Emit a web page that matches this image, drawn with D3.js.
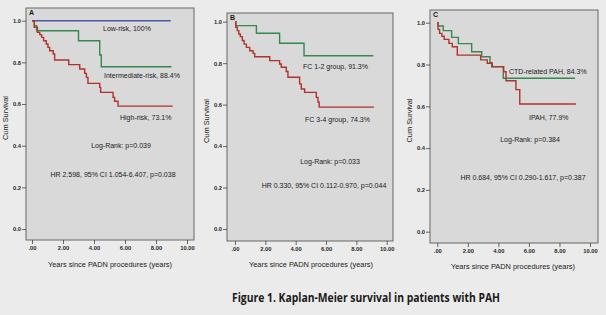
<!DOCTYPE html>
<html>
<head>
<meta charset="utf-8">
<script src="https://cdn.jsdelivr.net/npm/d3@7"></script>
<style>
  html, body { margin: 0; padding: 0; background: #ebebeb; }
  svg { display: block; }
  text { font-family: "Liberation Sans", Arial, sans-serif; fill: #1a1a1a; }
  .tick text { font-size: 5.8px; font-weight: bold; fill: #2a2a2a; }
  .tick line { stroke: #444; stroke-width: 0.8; }
  .lbl { font-size: 7px; }
  .atitle { font-size: 7.4px; }
</style>
</head>
<body>
<div id="chart"></div>
<script>
const width = 606;
const height = 315;

// ----------------------------- DATA ----------------------------- //
// Kaplan-Meier steps: event times (years) and survival after each event
const lowRiskT = [];
const lowRiskS = [];
const lowRiskEnd = 8.95;

const interRiskT = [0.15, 0.3, 3.0, 4.37, 4.47];
const interRiskS = [0.976, 0.952, 0.904, 0.835, 0.779];
const interRiskEnd = 9.0;

const highRiskT = [0.15, 0.35, 0.5, 0.62, 0.75, 0.92, 1.03, 1.14, 1.37, 1.46, 2.37, 3.08, 3.40, 3.51, 3.61, 4.37, 4.43, 5.23, 5.33, 5.55];
const highRiskS = [0.968, 0.944, 0.933, 0.920, 0.904, 0.888, 0.872, 0.856, 0.840, 0.811, 0.789, 0.768, 0.747, 0.728, 0.699, 0.680, 0.656, 0.632, 0.613, 0.590];
const highRiskEnd = 9.08;

const fc12T = [0.05, 1.41, 2.94, 4.55];
const fc12S = [0.981, 0.944, 0.896, 0.836];
const fc12End = 9.12;

const fc34T = [0.05, 0.15, 0.25, 0.35, 0.48, 0.6, 0.75, 0.97, 1.19, 1.30, 2.29, 2.94, 3.05, 3.38, 3.49, 4.26, 4.37, 4.59, 5.36, 5.47, 5.55];
const fc34S = [0.973, 0.957, 0.941, 0.928, 0.909, 0.892, 0.876, 0.860, 0.847, 0.831, 0.812, 0.796, 0.780, 0.760, 0.732, 0.700, 0.675, 0.659, 0.635, 0.612, 0.588];
const fc34End = 9.16;

const ctdT = [0.05, 0.39, 0.94, 1.38, 2.25, 2.91, 3.45, 3.56, 4.32];
const ctdS = [0.984, 0.962, 0.930, 0.900, 0.861, 0.837, 0.810, 0.789, 0.734];
const ctdEnd = 9.02;

const ipahT = [0.05, 0.15, 0.3, 0.45, 0.76, 0.98, 1.31, 2.84, 3.27, 3.60, 4.35, 4.5, 5.15, 5.4];
const ipahS = [0.968, 0.949, 0.935, 0.920, 0.901, 0.885, 0.845, 0.822, 0.806, 0.790, 0.765, 0.722, 0.680, 0.611];
const ipahEnd = 9.08;

const xTicks = [0, 2, 4, 6, 8, 10];
const yTicks = [0, 0.2, 0.4, 0.6, 0.8, 1.0];

const panelLetters = ["A", "B", "C"];
const curveLabels = [
  ["Low-risk, 100%", "Intermediate-risk, 88.4%", "High-risk, 73.1%"],
  ["FC 1-2 group, 91.3%", "FC 3-4 group, 74.3%"],
  ["CTD-related PAH, 84.3%", "IPAH, 77.9%"]
];
const logRankText = ["Log-Rank: p=0.039", "Log-Rank: p=0.033", "Log-Rank: p=0.384"];
const hrText = [
  "HR 2.598, 95% CI 1.054-6.407, p=0.038",
  "HR 0.330,  95% CI 0.112-0.970, p=0.044",
  "HR 0.684, 95% CI 0.290-1.617, p=0.387"
];
const xTitle = "Years since PADN procedures (years)";
const yTitle = "Cum Survival";
const figTitle = "Figure 1. Kaplan-Meier survival in patients with PAH";

const colors = { blue: "#4b5aa6", green: "#35884f", red: "#b0322e" };

// ---------------------------- LAYOUT ---------------------------- //
const panels = [
  { box: [26, 8, 194, 240], xr: [32, 187], yr: [229, 20.7],
    curves: [
      { t: lowRiskT, s: lowRiskS, end: lowRiskEnd, c: colors.blue },
      { t: interRiskT, s: interRiskS, end: interRiskEnd, c: colors.green },
      { t: highRiskT, s: highRiskS, end: highRiskEnd, c: colors.red }
    ],
    labelXY: [[103, 30.5], [104, 78], [120, 119.5]],
    logXY: [121, 147.5], hrXY: [113, 176.5], titleX: 110, titleY: 266.5, yTitleX: 8 },
  { box: [227, 13, 393, 241], xr: [235, 386.7], yr: [229, 21.7],
    curves: [
      { t: fc12T, s: fc12S, end: fc12End, c: colors.green },
      { t: fc34T, s: fc34S, end: fc34End, c: colors.red }
    ],
    labelXY: [[303, 69], [305, 121.5]],
    logXY: [330, 163.5], hrXY: [324, 187.5], titleX: 311, titleY: 266.5, yTitleX: 209 },
  { box: [430, 10, 598, 243], xr: [437.3, 590], yr: [231.7, 22.7],
    curves: [
      { t: ctdT, s: ctdS, end: ctdEnd, c: colors.green },
      { t: ipahT, s: ipahS, end: ipahEnd, c: colors.red }
    ],
    labelXY: [[509, 74], [529, 119.5]],
    logXY: [530, 141.5], hrXY: [523, 179.5], titleX: 513, titleY: 268.5, yTitleX: 412 }
];

const svg = d3.select("#chart").append("svg")
  .attr("width", width)
  .attr("height", height);

svg.append("rect")
  .attr("width", width).attr("height", height)
  .attr("fill", "#ebebeb");

const line = d3.line().curve(d3.curveStepAfter);

panels.forEach(function(p, i) {
  const g = svg.append("g");
  const x = d3.scaleLinear().domain([0, 10]).range(p.xr);
  const y = d3.scaleLinear().domain([0, 1]).range(p.yr);
  const [l, t, r, b] = p.box;

  // plot area
  g.append("rect")
    .attr("x", l).attr("y", t)
    .attr("width", r - l).attr("height", b - t)
    .attr("fill", "#d9d9d9")
    .attr("stroke", "#5a5a5a")
    .attr("stroke-width", 0.9);

  // axes
  const ya = g.append("g")
    .attr("transform", `translate(${l},0)`)
    .call(d3.axisLeft(y).tickValues(yTicks).tickSize(4).tickPadding(1)
      .tickFormat(d => d.toFixed(1)));
  ya.select(".domain").remove();

  const xa = g.append("g")
    .attr("transform", `translate(0,${b})`)
    .call(d3.axisBottom(x).tickValues(xTicks).tickSize(4).tickPadding(2)
      .tickFormat(d => d === 0 ? ".00" : d.toFixed(2)));
  xa.select(".domain").remove();

  // curves
  p.curves.forEach(function(cv) {
    const pts = [[0, 1]].concat(cv.t.map((tt, k) => [tt, cv.s[k]]));
    const last = pts[pts.length - 1][1];
    pts.push([cv.end, last]);
    g.append("path")
      .attr("d", line(pts.map(d => [x(d[0]), y(d[1])])))
      .attr("fill", "none")
      .attr("stroke", cv.c)
      .attr("stroke-width", 1.4);
  });

  // panel letter
  g.append("text")
    .attr("x", l + 3).attr("y", t + 7)
    .style("font-size", "7px").style("font-weight", "bold")
    .text(panelLetters[i]);

  // curve labels
  curveLabels[i].forEach(function(txt, k) {
    g.append("text").attr("class", "lbl")
      .attr("x", p.labelXY[k][0]).attr("y", p.labelXY[k][1])
      .text(txt);
  });

  g.append("text").attr("class", "lbl")
    .attr("x", p.logXY[0]).attr("y", p.logXY[1])
    .attr("text-anchor", "middle")
    .text(logRankText[i]);

  g.append("text").attr("class", "lbl")
    .attr("x", p.hrXY[0]).attr("y", p.hrXY[1])
    .attr("text-anchor", "middle")
    .text(hrText[i]);

  // axis titles
  g.append("text").attr("class", "atitle")
    .attr("x", p.titleX).attr("y", p.titleY)
    .attr("text-anchor", "middle")
    .text(xTitle);

  g.append("text").attr("class", "atitle")
    .attr("transform", `translate(${p.yTitleX},${(t + b) / 2 - 6}) rotate(-90)`)
    .attr("text-anchor", "middle")
    .text(yTitle);
});

svg.append("text")
  .attr("x", 366).attr("y", 302)
  .attr("text-anchor", "middle")
  .attr("textLength", 268)
  .attr("lengthAdjust", "spacingAndGlyphs")
  .style("font-family", "'Open Sans', 'Liberation Sans', sans-serif")
  .style("font-size", "12.5px")
  .style("font-weight", "bold")
  .style("fill", "#1a1a1a")
  .text(figTitle);
</script>
</body>
</html>
